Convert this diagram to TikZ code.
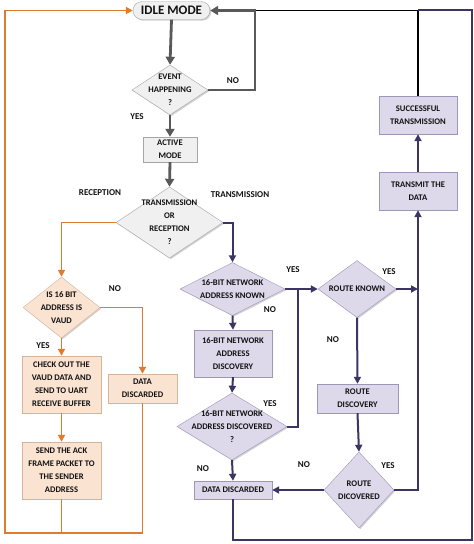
\documentclass[tikz,border=0pt]{standalone}
\usepackage{fontspec}
\setmainfont{Carlito}
\usetikzlibrary{arrows.meta,shapes.geometric,shadows}
\definecolor{gline}{HTML}{595959}
\definecolor{gfill}{HTML}{F0F0F0}
\definecolor{gdraw}{HTML}{A6A6A6}
\definecolor{oline}{HTML}{E07B2E}
\definecolor{ofill}{HTML}{FBE3D2}
\definecolor{odraw}{HTML}{D4B59C}
\definecolor{pline}{HTML}{3C3462}
\definecolor{pfill}{HTML}{DDD9EB}
\definecolor{pdraw}{HTML}{9C97B8}
\definecolor{txt}{HTML}{111111}
\tikzset{
  shd/.style={drop shadow={shadow xshift=1.2pt,shadow yshift=-1.2pt,fill=black,opacity=0.18}},
  boxtxt/.style={font=\fontsize{8.6}{13}\selectfont\bfseries, text=txt, align=center},
  gbox/.style={rectangle, draw=gdraw, fill=gfill, shd, boxtxt, inner sep=0pt},
  obox/.style={rectangle, draw=odraw, fill=ofill, shd, boxtxt, inner sep=0pt},
  pbox/.style={rectangle, draw=pdraw, fill=pfill, shd, boxtxt, inner sep=0pt},
  gdiam/.style={diamond, draw=gdraw, fill=gfill, shd, inner sep=0pt},
  odiam/.style={diamond, draw=odraw, fill=ofill, shd, inner sep=0pt},
  pdiam/.style={diamond, draw=pdraw, fill=pfill, shd, inner sep=0pt},
  every label/.style={boxtxt, inner sep=0pt},
  lab/.style={font=\fontsize{9}{11}\selectfont\bfseries, text=txt, inner sep=0pt},
  garrow/.style={draw=gline, line width=2.8pt, -{Triangle[length=8pt,width=9pt]}},
  gln/.style={draw=gline, line width=2.8pt},
  oarrow/.style={draw=oline, line width=1.8pt, -{Triangle[length=7pt,width=7pt]}},
  oln/.style={draw=oline, line width=1.8pt},
  parrow/.style={draw=pline, line width=2pt, -{Triangle[length=7pt,width=7pt]}},
  pln/.style={draw=pline, line width=2pt},
  kln/.style={draw=black, line width=1.4pt},
}
\begin{document}
\begin{tikzpicture}[x=1pt,y=-1pt]
\useasboundingbox (0,0) rectangle (474,544);
% ---- main (gray) ----
\node[gbox, rounded corners=9pt, minimum width=77pt, minimum height=18pt,
      font=\fontsize{13}{14}\selectfont\bfseries] (idle) at (171.5,10.5) {IDLE MODE};
\node[gdiam, minimum width=76pt, minimum height=50pt,
      label={center:EVENT\\HAPPENING\\?}] (event) at (170,90) {};
\node[gbox, minimum width=54pt, minimum height=25pt] (active) at (170,149.5) {ACTIVE\\MODE};
\node[gdiam, minimum width=107pt, minimum height=71pt,
      label={center:TRANSMISSION\\OR\\RECEPTION\\?}] (txrx) at (169.5,222.5) {};
% ---- reception (orange) ----
\node[odiam, minimum width=77pt, minimum height=61pt,
      label={center:IS 16 BIT\\ADDRESS IS\\VAUD}] (valid) at (61.5,307.5) {};
\node[obox, minimum width=79pt, minimum height=57pt] (check) at (61.5,384.5)
      {CHECK OUT THE\\VAUD DATA AND\\SEND TO UART\\RECEIVE BUFFER};
\node[obox, minimum width=69pt, minimum height=29pt] (ddo) at (142.5,388.5) {DATA\\DISCARDED};
\node[obox, minimum width=79pt, minimum height=57pt] (ack) at (61.5,470.5)
      {SEND THE ACK\\FRAME PACKET TO\\THE SENDER\\ADDRESS};
% ---- transmission (purple) ----
\node[pdiam, minimum width=105pt, minimum height=53pt,
      label={center:16-BIT NETWORK\\ADDRESS KNOWN}] (known) at (232.5,289) {};
\node[pbox, minimum width=78pt, minimum height=47pt] (netdisc) at (233,353.5)
      {16-BIT NETWORK\\ADDRESS\\DISCOVERY};
\node[pdiam, minimum width=110pt, minimum height=67pt,
      label={center:16-BIT NETWORK\\ADDRESS DISCOVERED\\?}] (disced) at (232,426.5) {};
\node[pbox, minimum width=78pt, minimum height=18pt] (ddp) at (233,490) {DATA DISCARDED};
\node[pdiam, minimum width=78pt, minimum height=57pt,
      label={center:ROUTE KNOWN}] (rknown) at (357,289) {};
\node[pbox, minimum width=81pt, minimum height=29pt] (rdisc) at (357.5,398.5) {ROUTE\\DISCOVERY};
\node[pdiam, minimum width=70pt, minimum height=76pt,
      label={center:ROUTE\\DICOVERED}] (rdisced) at (359,490) {};
\node[pbox, minimum width=78pt, minimum height=38pt] (transmit) at (418,191) {TRANSMIT THE\\DATA};
\node[pbox, minimum width=78pt, minimum height=38pt] (success) at (418,115) {SUCCESSFUL\\TRANSMISSION};
% ---- coordinates ----
\coordinate (nojoin) at (255,10.5);
\coordinate (obot) at (142.5,533);
\coordinate (oleft) at (5,533);
\coordinate (kjoin) at (298,289);
\coordinate (pbot) at (233,540);
\coordinate (pbr) at (472,540);
\coordinate (ptr) at (472,9.5);
\coordinate (ptop) at (418,9.5);
% ---- gray connectors ----
\draw[garrow] (idle.south) -- (event.north);
\draw[garrow] (event.south) -- (active.north);
\draw[garrow] (active.south) -- (txrx.north);
\draw[kln] (success.north) |- (nojoin);
\draw[garrow] (event.east) -| (nojoin) -- (idle.east);
% ---- orange connectors ----
\draw[oarrow] (txrx.west) -| (valid.north);
\draw[oarrow] (valid.east) -| (ddo.north);
\draw[oarrow] (valid.south) -- (check.north);
\draw[oarrow] (check.south) -- (ack.north);
\draw[oln] (ack.south) -- (ack.south |- obot);
\draw[oarrow] (ddo.south) -- (obot) -- (oleft) |- (idle.west);
% ---- purple connectors ----
\draw[parrow] (txrx.east) -| (known.north);
\draw[parrow] (known.east) -- (rknown.west);
\draw[parrow] (known.south) -- (netdisc.north);
\draw[parrow] (netdisc.south) -- (disced.north);
\draw[pln] (disced.east) -| (kjoin);
\draw[parrow] (disced.south) -- (ddp.north);
\draw[parrow] (rknown.south) -- (rdisc.north);
\draw[parrow] (rknown.east) -- (rknown.east -| transmit.south);
\draw[parrow] (rdisc.south) -- (rdisced.north);
\draw[parrow] (rdisced.west) -- (ddp.east);
\draw[parrow] (rdisced.east) -| (transmit.south);
\draw[parrow] (transmit.north) -- (success.south);
\draw[pln, line join=miter] (ddp.south) -- (pbot) -- (pbr) -- (ptr) -- (ptop);
% ---- labels ----
\node[lab] (l1) at (233,81) {NO};
\node[lab] (l2) at (137,117) {YES};
\node[lab] (l3) at (100,193) {RECEPTION};
\node[lab] (l4) at (240,195) {TRANSMISSION};
\node[lab] (l5) at (115,289) {NO};
\node[lab] (l6) at (43,346) {YES};
\node[lab] (l7) at (293,270) {YES};
\node[lab] (l8) at (270,310) {NO};
\node[lab] (l9) at (389,272) {YES};
\node[lab] (l10) at (333,340) {NO};
\node[lab] (l11) at (270,404) {YES};
\node[lab] (l12) at (203,469) {NO};
\node[lab] (l13) at (304,465) {NO};
\node[lab] (l14) at (388,466) {YES};
\end{tikzpicture}
\end{document}
